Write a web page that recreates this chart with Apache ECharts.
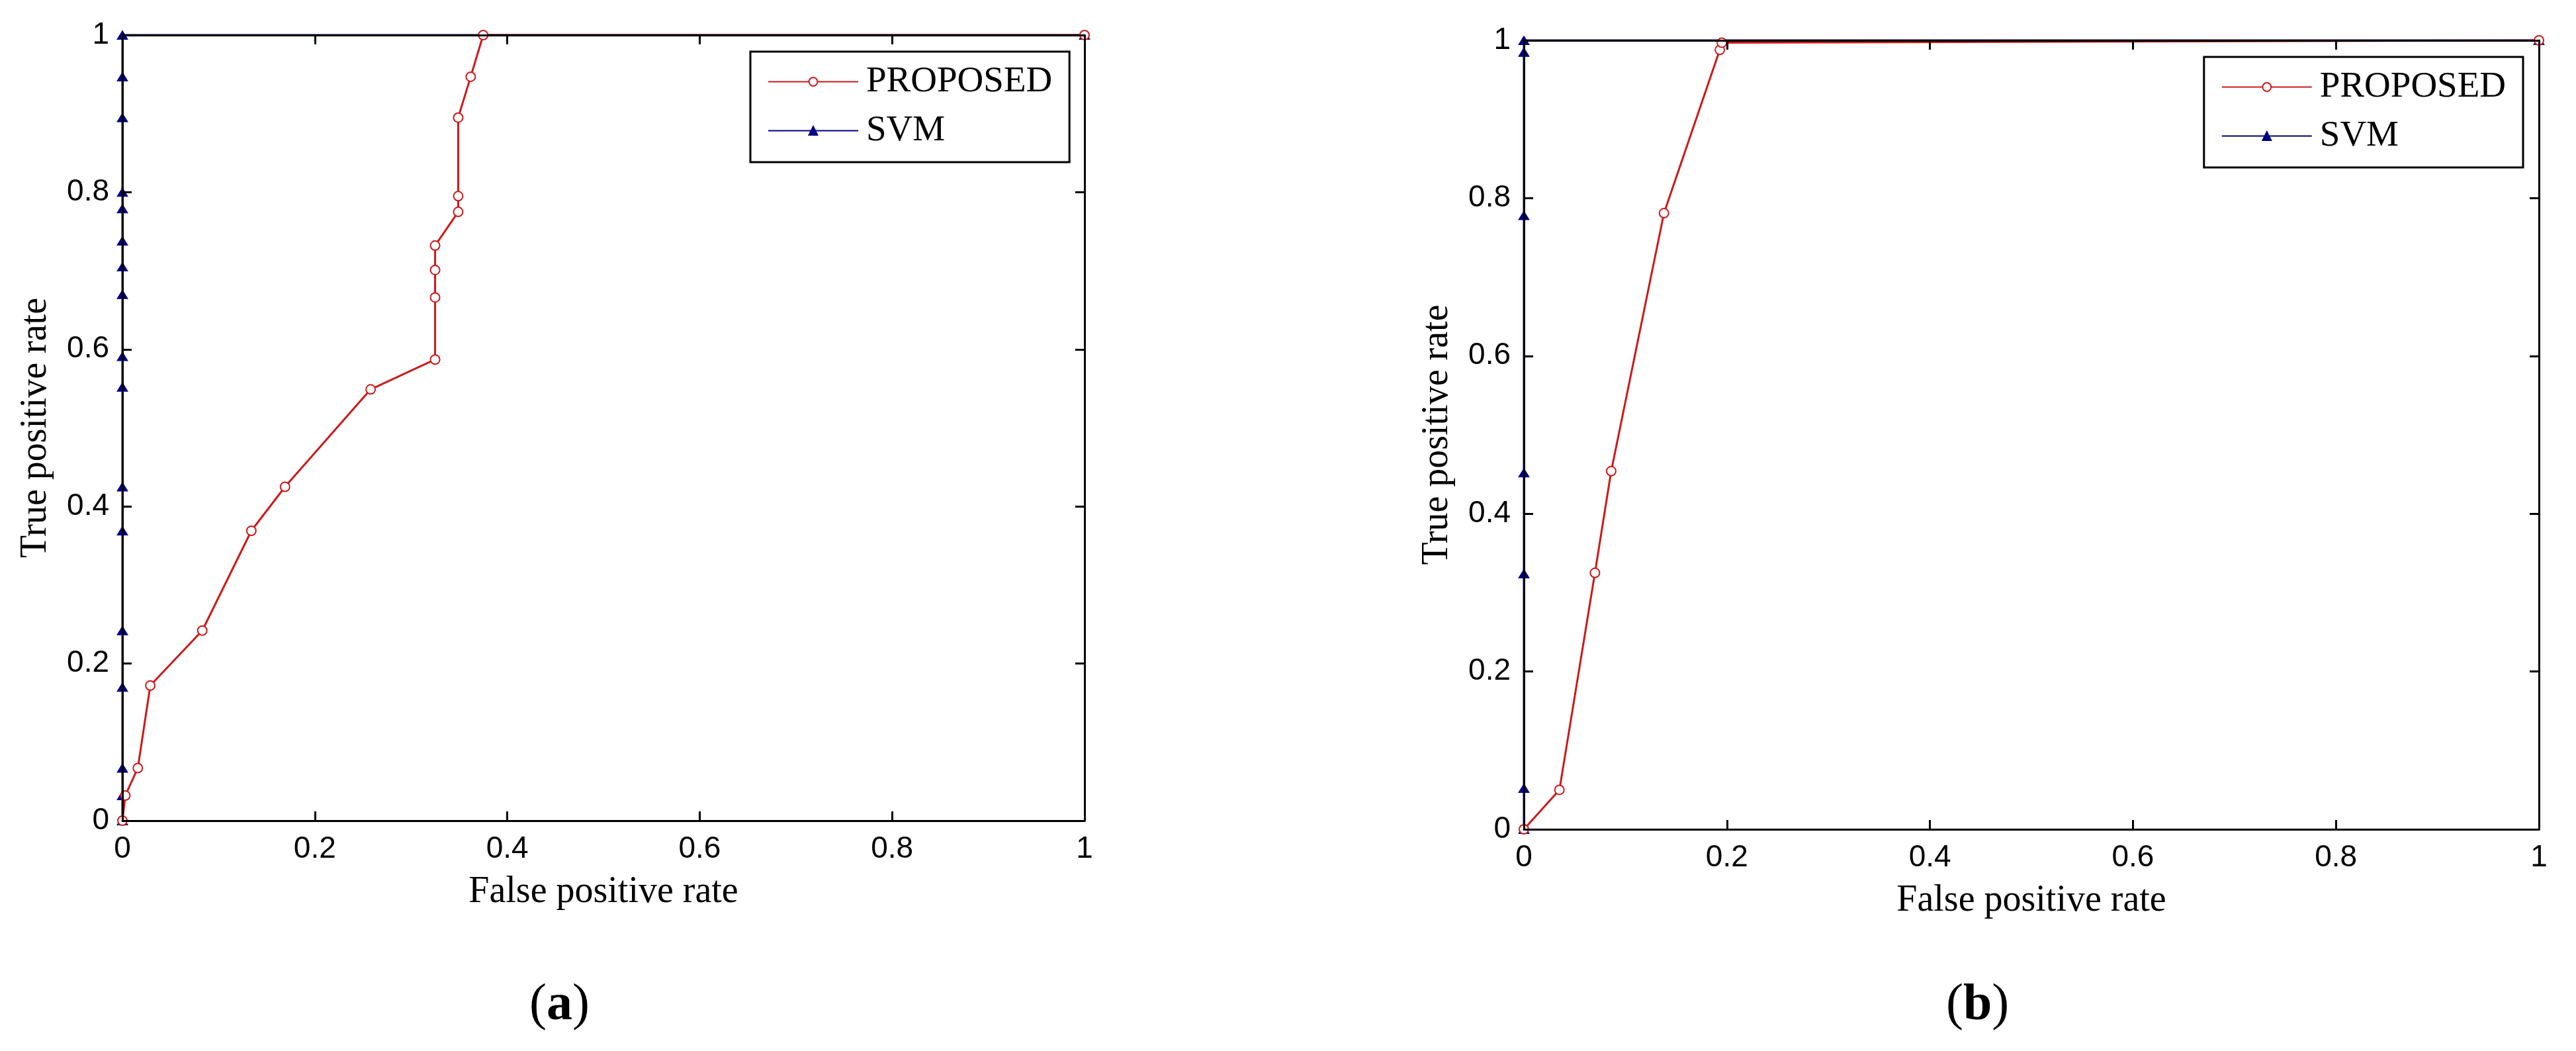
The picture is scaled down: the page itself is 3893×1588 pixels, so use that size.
<!DOCTYPE html>
<html>
<head>
<meta charset="utf-8">
<script src="https://cdn.jsdelivr.net/npm/echarts@6/dist/echarts.min.js"></script>
<style>
html,body{margin:0;padding:0;background:#fff;}
#chart{width:3893px;height:1588px;}
</style>
</head>
<body>
<div id="chart"></div>
<script>
// ---- Data ----
const tickValues = [0, 0.2, 0.4, 0.6, 0.8, 1];
const seriesNames = ['PROPOSED', 'SVM'];
const panelLabels = ['a', 'b'];
const xAxisTitle = 'False positive rate';
const yAxisTitle = 'True positive rate';

// Panel (a)
const proposedA_fpr = [0, 0.003, 0.016, 0.029, 0.083, 0.134, 0.169, 0.258, 0.325, 0.325, 0.325, 0.325, 0.349, 0.349, 0.349, 0.362, 0.375, 1];
const proposedA_tpr = [0, 0.032, 0.067, 0.172, 0.242, 0.369, 0.425, 0.549, 0.587, 0.666, 0.701, 0.732, 0.775, 0.795, 0.895, 0.947, 1, 1];
const svmA_fpr = [0, 0, 0, 0, 0, 0, 0, 0, 0, 0, 0, 0, 0, 0, 0, 0, 0, 1];
const svmA_tpr = [0, 0.032, 0.067, 0.170, 0.242, 0.369, 0.425, 0.552, 0.591, 0.670, 0.705, 0.738, 0.779, 0.800, 0.895, 0.947, 1, 1];

// Panel (b)
const proposedB_fpr = [0, 0.035, 0.070, 0.086, 0.138, 0.193, 0.195, 1];
const proposedB_tpr = [0, 0.050, 0.325, 0.454, 0.781, 0.988, 0.997, 1];
const svmB_fpr = [0, 0, 0, 0, 0, 0, 0, 1];
const svmB_tpr = [0, 0.052, 0.324, 0.452, 0.778, 0.985, 1, 1];

function zip(xs, ys) { return xs.map((x, i) => [x, ys[i]]); }

const RED = '#cc1a1a';
const NAVY = '#000080';
const tickFmt = v => (v === 0 ? '0' : v === 1 ? '1' : v.toFixed(1));

const grids = [
  { left: 185, top: 53, width: 1454, height: 1187 },
  { left: 2303, top: 61, width: 1534, height: 1192 }
];

function mainX(gi) {
  return {
    type: 'value', gridIndex: gi, position: 'bottom', min: 0, max: 1, interval: 0.2, z: 5,
    name: xAxisTitle, nameLocation: 'middle', nameGap: 80,
    nameTextStyle: { fontFamily: 'Liberation Serif', fontSize: 56, color: '#000' },
    axisLine: { show: true, onZero: false, lineStyle: { color: '#000', width: 3 } },
    axisTick: { show: true, inside: true, length: 14, lineStyle: { color: '#000', width: 3 } },
    axisLabel: { show: true, margin: 20, fontFamily: 'Liberation Sans', fontSize: 46, color: '#000', formatter: tickFmt },
    splitLine: { show: false }
  };
}
function topX(gi) {
  return {
    type: 'value', gridIndex: gi, position: 'top', min: 0, max: 1, interval: 0.2, z: 5,
    axisLine: { show: true, onZero: false, lineStyle: { color: '#000', width: 3 } },
    axisTick: { show: true, inside: true, length: 14, lineStyle: { color: '#000', width: 3 } },
    axisLabel: { show: false }, splitLine: { show: false }
  };
}
function mainY(gi) {
  return {
    type: 'value', gridIndex: gi, position: 'left', min: 0, max: 1, interval: 0.2, z: 5,
    name: yAxisTitle, nameLocation: 'middle', nameGap: 103, nameRotate: 90,
    nameTextStyle: { fontFamily: 'Liberation Serif', fontSize: 56, color: '#000' },
    axisLine: { show: true, onZero: false, lineStyle: { color: '#000', width: 3 } },
    axisTick: { show: true, inside: true, length: 14, lineStyle: { color: '#000', width: 3 } },
    axisLabel: { show: true, margin: 20, fontFamily: 'Liberation Sans', fontSize: 46, color: '#000', formatter: tickFmt },
    splitLine: { show: false }
  };
}
function rightY(gi) {
  return {
    type: 'value', gridIndex: gi, position: 'right', min: 0, max: 1, interval: 0.2, z: 5,
    axisLine: { show: true, onZero: false, lineStyle: { color: '#000', width: 3 } },
    axisTick: { show: true, inside: true, length: 14, lineStyle: { color: '#000', width: 3 } },
    axisLabel: { show: false }, splitLine: { show: false }
  };
}

function proposedSeries(data, ai) {
  return {
    name: seriesNames[0], type: 'line', xAxisIndex: ai, yAxisIndex: ai, data: data,
    clip: false, z: 3, animation: false,
    symbol: 'emptyCircle', symbolSize: 14, showAllSymbol: true,
    lineStyle: { color: RED, width: 3 },
    itemStyle: { color: RED, borderColor: RED, borderWidth: 2.5 }
  };
}
function svmSeries(data, ai) {
  return {
    name: seriesNames[1], type: 'line', xAxisIndex: ai, yAxisIndex: ai, data: data,
    clip: false, z: 2, animation: false,
    symbol: 'triangle', symbolSize: [16, 13], showAllSymbol: true,
    lineStyle: { color: NAVY, width: 3 },
    itemStyle: { color: NAVY, borderColor: NAVY, borderWidth: 1 }
  };
}

function legendFor(pos) {
  return Object.assign({
    orient: 'vertical', data: seriesNames,
    padding: [18, 26, 20, 26], itemGap: 19, itemWidth: 136, itemHeight: 16,
    borderColor: '#000', borderWidth: 3, borderRadius: 0, backgroundColor: '#fff',
    selectedMode: false,
    textStyle: { fontFamily: 'Liberation Serif', fontSize: 55, color: '#000', padding: [0, 0, 0, 7] }
  }, pos);
}

function panelTitle(label, left) {
  return {
    text: '{p|(}{b|' + label + '}{p|)}', left: left, top: 1476,
    textStyle: {
      fontWeight: 'normal',
      rich: {
        p: { fontFamily: 'Liberation Serif', fontSize: 78, fontWeight: 'normal', color: '#000' },
        b: { fontFamily: 'Liberation Serif', fontSize: 78, fontWeight: 'bold', color: '#000' }
      }
    }
  };
}

const option = {
  backgroundColor: '#fff',
  animation: false,
  grid: grids,
  title: [panelTitle(panelLabels[0], 795), panelTitle(panelLabels[1], 2936)],
  legend: [legendFor({ left: 1134, top: 78 }), legendFor({ right: 80, top: 86 })],
  xAxis: [mainX(0), mainX(1), topX(0), topX(1)],
  yAxis: [mainY(0), mainY(1), rightY(0), rightY(1)],
  series: [
    svmSeries(zip(svmA_fpr, svmA_tpr), 0),
    proposedSeries(zip(proposedA_fpr, proposedA_tpr), 0),
    svmSeries(zip(svmB_fpr, svmB_tpr), 1),
    proposedSeries(zip(proposedB_fpr, proposedB_tpr), 1)
  ]
};

const chart = echarts.init(document.getElementById('chart'), null, { renderer: 'canvas' });
chart.setOption(option);
</script>
</body>
</html>
